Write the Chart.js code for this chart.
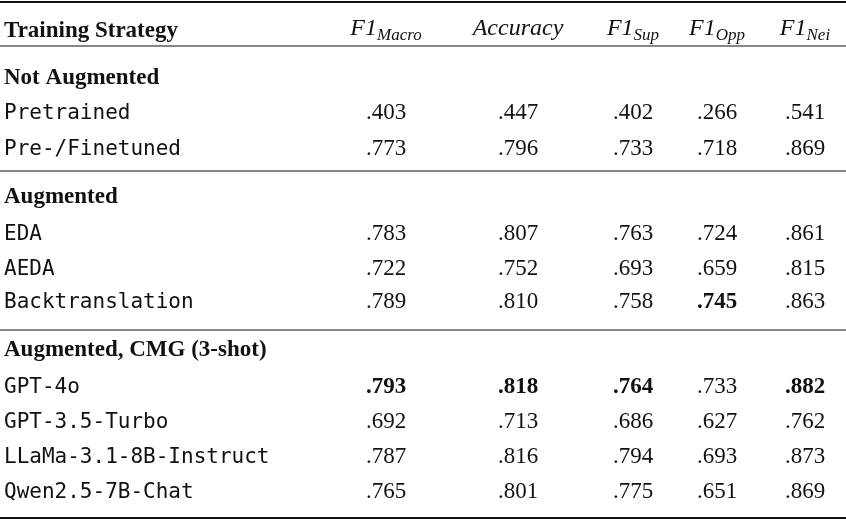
<!DOCTYPE html>
<html>
<head>
<meta charset="utf-8">
<script src="https://cdn.jsdelivr.net/npm/chart.js@4"></script>
<style>
  html, body { margin: 0; padding: 0; background: #fff; }
  #wrap { width: 846px; height: 520px; }
</style>
</head>
<body>
<div id="wrap"><canvas id="c"></canvas></div>
<script>
// table data
const columns = ["F1|Macro", "Accuracy", "F1|Sup", "F1|Opp", "F1|Nei"];
const sections = ["Not Augmented", "Augmented", "Augmented, CMG (3-shot)"];
const strategies = [
  "Pretrained", "Pre-/Finetuned",
  "EDA", "AEDA", "Backtranslation",
  "GPT-4o", "GPT-3.5-Turbo", "LLaMa-3.1-8B-Instruct", "Qwen2.5-7B-Chat",
];
const f1Macro  = [.403, .773, .783, .722, .789, .793, .692, .787, .765];
const accuracy = [.447, .796, .807, .752, .810, .818, .713, .816, .801];
const f1Sup    = [.402, .733, .763, .693, .758, .764, .686, .794, .775];
const f1Opp    = [.266, .718, .724, .659, .745, .733, .627, .693, .651];
const f1Nei    = [.541, .869, .861, .815, .863, .882, .762, .873, .869];
const series = [f1Macro, accuracy, f1Sup, f1Opp, f1Nei];
// row index set in bold per column, as in the source table
const boldRow = [5, 5, 5, 4, 5];

// layout (pixel-ish units on a 846x520 frame)
const colX = [386, 518, 633, 717, 805];
const headerY = 31;
const sectionY = [78, 197, 350];
const rowY = [113, 149, 234, 269, 302, 387, 422, 457, 492];
const ruleY = [{y: 2, w: 2}, {y: 46, w: 1.2}, {y: 171, w: 1.2}, {y: 330, w: 1.2}, {y: 518, w: 2}];

const fmt = v => v.toFixed(3).replace(/^0/, "");

const cells = [];
series.forEach((s, ci) => s.forEach((v, ri) => cells.push({x: colX[ci], y: rowY[ri], v, b: boldRow[ci] === ri})));

const serif = '"Liberation Serif", "DejaVu Serif", serif';
const mono = '"DejaVu Sans Mono", "Liberation Mono", monospace';

const tablePlugin = {
  id: "table",
  afterDatasetsDraw(chart) {
    const {ctx, scales: {x, y}} = chart;
    ctx.save();
    ctx.fillStyle = "#111";
    ctx.strokeStyle = "#111";
    ruleY.forEach(r => {
      ctx.lineWidth = r.w;
      ctx.beginPath();
      ctx.moveTo(x.getPixelForValue(0), y.getPixelForValue(r.y));
      ctx.lineTo(x.getPixelForValue(846), y.getPixelForValue(r.y));
      ctx.stroke();
    });
    ctx.textBaseline = "middle";
    ctx.textAlign = "left";
    ctx.font = "bold 23px " + serif;
    ctx.fillText("Training Strategy", x.getPixelForValue(4), y.getPixelForValue(headerY));
    // headers
    columns.forEach((c, i) => {
      const [main, sub] = c.split("|");
      ctx.font = "italic 24px " + serif;
      const mw = ctx.measureText(main).width;
      ctx.font = "italic 17px " + serif;
      const sw = sub ? ctx.measureText(sub).width : 0;
      const px = x.getPixelForValue(colX[i]) - (mw + sw) / 2;
      const py = y.getPixelForValue(headerY) - 2;
      ctx.font = "italic 24px " + serif;
      ctx.fillText(main, px, py);
      if (sub) {
        ctx.font = "italic 17px " + serif;
        ctx.fillText(sub, px + mw, py + 7);
      }
    });
    ctx.font = "bold 23px " + serif;
    sections.forEach((s, i) => ctx.fillText(s, x.getPixelForValue(4), y.getPixelForValue(sectionY[i])));
    ctx.font = "21px " + mono;
    strategies.forEach((s, i) => ctx.fillText(s, x.getPixelForValue(4), y.getPixelForValue(rowY[i]) + 1));
    // numbers at the points placed by the scales
    ctx.textAlign = "center";
    const meta = chart.getDatasetMeta(0);
    meta.data.forEach((pt, i) => {
      const c = cells[i];
      ctx.font = (c.b ? "bold " : "") + "23px " + serif;
      ctx.fillText(fmt(c.v), pt.x, pt.y);
    });
    ctx.restore();
  }
};

new Chart(document.getElementById("c"), {
  type: "scatter",
  data: { datasets: [{ data: cells.map(c => ({x: c.x, y: c.y})), pointRadius: 0 }] },
  options: {
    responsive: true,
    maintainAspectRatio: false,
    animation: false,
    layout: { padding: 0 },
    scales: {
      x: { type: "linear", min: 0, max: 846, display: false },
      y: { type: "linear", min: 0, max: 520, reverse: true, display: false },
    },
    plugins: { legend: { display: false }, tooltip: { enabled: false } },
  },
  plugins: [tablePlugin],
});
</script>
</body>
</html>
